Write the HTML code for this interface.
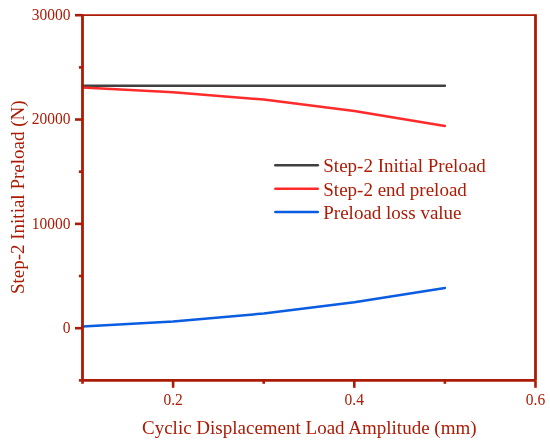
<!DOCTYPE html>
<html><head><meta charset="utf-8"><style>
html,body{margin:0;padding:0;background:#fff;}
svg{display:block;}
text{font-family:"Liberation Serif",serif;fill:#ab1c06;}
</style></head><body>
<svg width="550" height="442" viewBox="0 0 550 442">
<rect width="550" height="442" fill="#fff"/>
<g>
<g fill="none" stroke-linejoin="round" stroke-linecap="round" stroke-width="2.5">
<polyline points="82.50,85.73 173.10,85.73 263.70,85.73 354.30,85.73 444.90,85.73" stroke="#404040"/>
<polyline points="82.50,87.49 173.10,92.20 263.70,99.60 354.30,110.95 444.90,125.90" stroke="#ff2a2a"/>
<polyline points="82.50,326.50 173.10,321.55 263.70,313.45 354.30,302.20 444.90,287.90" stroke="#0a5ce0"/>
</g>
<g>
<line x1="75" y1="328.20" x2="82.5" y2="328.20" stroke="#ab1c06" stroke-width="2.6"/><line x1="75" y1="223.87" x2="82.5" y2="223.87" stroke="#ab1c06" stroke-width="2.6"/><line x1="75" y1="119.53" x2="82.5" y2="119.53" stroke="#ab1c06" stroke-width="2.6"/><line x1="75" y1="15.20" x2="82.5" y2="15.20" stroke="#ab1c06" stroke-width="2.6"/><line x1="78.9" y1="380.37" x2="82.5" y2="380.37" stroke="#ab1c06" stroke-width="2.6"/><line x1="78.9" y1="276.03" x2="82.5" y2="276.03" stroke="#ab1c06" stroke-width="2.6"/><line x1="78.9" y1="171.70" x2="82.5" y2="171.70" stroke="#ab1c06" stroke-width="2.6"/><line x1="78.9" y1="67.37" x2="82.5" y2="67.37" stroke="#ab1c06" stroke-width="2.6"/><line x1="173.10" y1="380.37" x2="173.10" y2="387.8" stroke="#ab1c06" stroke-width="2.6"/><line x1="354.30" y1="380.37" x2="354.30" y2="387.8" stroke="#ab1c06" stroke-width="2.6"/><line x1="535.50" y1="380.37" x2="535.50" y2="387.8" stroke="#ab1c06" stroke-width="2.6"/><line x1="82.50" y1="380.37" x2="82.50" y2="383.8" stroke="#ab1c06" stroke-width="2.6"/><line x1="263.70" y1="380.37" x2="263.70" y2="383.8" stroke="#ab1c06" stroke-width="2.6"/><line x1="444.90" y1="380.37" x2="444.90" y2="383.8" stroke="#ab1c06" stroke-width="2.6"/>
</g>
<line x1="82.5" y1="15.15" x2="535.5" y2="15.15" stroke="#ab1c06" stroke-width="1.7"/>
<line x1="535.5" y1="14.3" x2="535.5" y2="380.37" stroke="#ab1c06" stroke-width="2.8"/>
<line x1="82.5" y1="380.37" x2="535.5" y2="380.37" stroke="#ab1c06" stroke-width="2.8"/>
<line x1="82.5" y1="14.3" x2="82.5" y2="380.37" stroke="#ab1c06" stroke-width="2.8"/>
<g font-size="15.5">
<text transform="translate(70.5,332.90) scale(1,1.08)" text-anchor="end">0</text><text transform="translate(70.5,228.57) scale(1,1.08)" text-anchor="end">10000</text><text transform="translate(70.5,124.23) scale(1,1.08)" text-anchor="end">20000</text><text transform="translate(70.5,19.90) scale(1,1.08)" text-anchor="end">30000</text>
<text transform="translate(173.10,404.5) scale(1,1.08)" text-anchor="middle">0.2</text><text transform="translate(354.30,404.5) scale(1,1.08)" text-anchor="middle">0.4</text><text transform="translate(535.50,404.5) scale(1,1.08)" text-anchor="middle">0.6</text>
</g>
<g font-size="19">
<line x1="275.3" y1="165.2" x2="317.8" y2="165.2" stroke="#404040" stroke-width="2.5" stroke-linecap="round"/>
<line x1="275.3" y1="188.7" x2="317.8" y2="188.7" stroke="#ff2a2a" stroke-width="2.5" stroke-linecap="round"/>
<line x1="275.3" y1="212.1" x2="317.8" y2="212.1" stroke="#0a5ce0" stroke-width="2.5" stroke-linecap="round"/>
<text x="323.3" y="172.2">Step-2 Initial Preload</text>
<text x="323.3" y="195.6">Step-2 end preload</text>
<text x="323.3" y="219.1">Preload loss value</text>
<text x="142" y="434">Cyclic Displacement Load Amplitude (mm)</text>
<text transform="translate(23.9,294.1) rotate(-90)" x="0" y="0">Step-2 Initial Preload (N)</text>
</g>
</g>
</svg>
</body></html>
